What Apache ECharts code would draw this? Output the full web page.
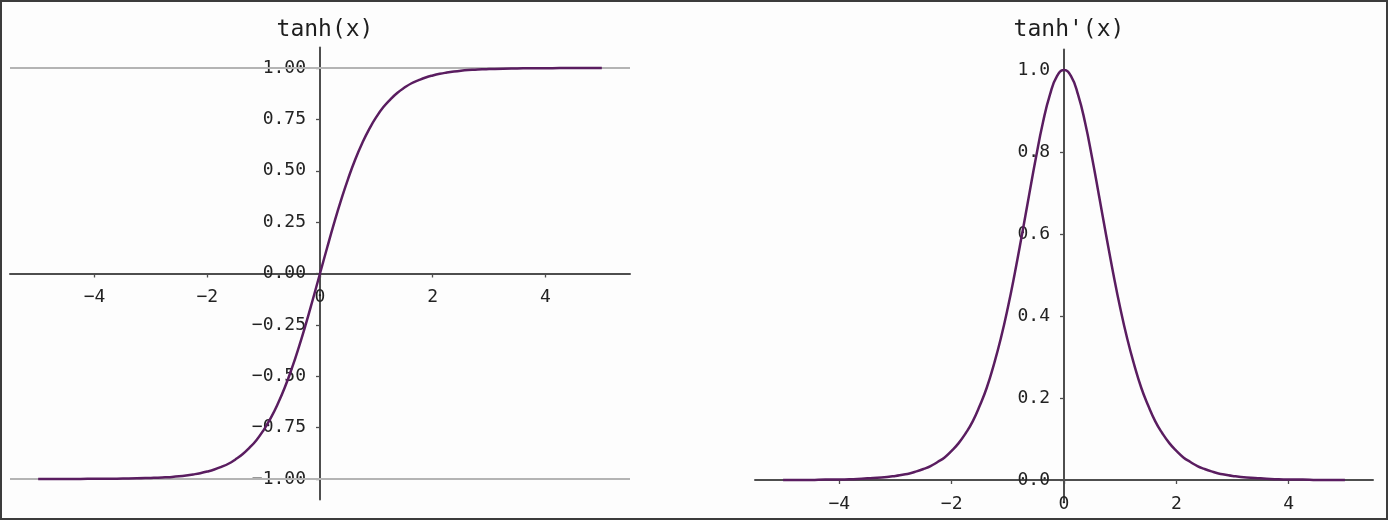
<!DOCTYPE html>
<html>
<head>
<meta charset="utf-8">
<script src="https://cdn.jsdelivr.net/npm/echarts@6/dist/echarts.min.js"></script>
<style>
  html, body { margin: 0; padding: 0; background: #fff; }
  .frame {
    position: absolute; left: 0; top: 0;
    width: 1388px; height: 520px;
    box-sizing: border-box;
    border: 2px solid #3c3c3c;
    background: #fdfdfd;
  }
  #chart { position: absolute; left: -2px; top: -2px; width: 1389px; height: 521px; }
</style>
</head>
<body>
<div class="frame"><div id="chart"></div></div>
<script>
// x positions of the sampled curve points (denser near the middle)
const xValues = [
  -5, -4.75, -4.5, -4.25, -4, -3.75, -3.5, -3.25,
  -3, -2.875, -2.75, -2.625, -2.5, -2.375, -2.25, -2.125, -2, -1.875, -1.75, -1.625, -1.5, -1.375, -1.25, -1.125,
  -1, -0.875, -0.75, -0.625, -0.5, -0.375, -0.25, -0.125,
  0, 0.125, 0.25, 0.375, 0.5, 0.625, 0.75, 0.875,
  1, 1.125, 1.25, 1.375, 1.5, 1.625, 1.75, 1.875, 2, 2.125, 2.25, 2.375, 2.5, 2.625, 2.75, 2.875, 3,
  3.25, 3.5, 3.75, 4, 4.25, 4.5, 4.75, 5
];
// left panel: tanh(x)
const tanhValues = [
  -1.0, -1.0, -1.0, -1.0, -0.999, -0.999, -0.998, -0.997,
  -0.995, -0.994, -0.992, -0.990, -0.987, -0.983, -0.978, -0.972, -0.964, -0.954, -0.941, -0.926, -0.905, -0.880, -0.848, -0.810,
  -0.762, -0.704, -0.635, -0.555, -0.462, -0.358, -0.245, -0.124,
  0.0, 0.124, 0.245, 0.358, 0.462, 0.555, 0.635, 0.704,
  0.762, 0.810, 0.848, 0.880, 0.905, 0.926, 0.941, 0.954, 0.964, 0.972, 0.978, 0.983, 0.987, 0.990, 0.992, 0.994, 0.995,
  0.997, 0.998, 0.999, 0.999, 1.0, 1.0, 1.0, 1.0
];
// right panel: tanh'(x)
const tanhPrimeValues = [
  0.0, 0.0, 0.0, 0.001, 0.001, 0.002, 0.004, 0.006,
  0.010, 0.013, 0.016, 0.021, 0.027, 0.034, 0.044, 0.055, 0.071, 0.090, 0.114, 0.143, 0.181, 0.225, 0.281, 0.345,
  0.420, 0.505, 0.597, 0.692, 0.786, 0.872, 0.940, 0.985,
  1.0, 0.985, 0.940, 0.872, 0.786, 0.692, 0.597, 0.505,
  0.420, 0.345, 0.281, 0.225, 0.181, 0.143, 0.114, 0.090, 0.071, 0.055, 0.044, 0.034, 0.027, 0.021, 0.016, 0.013, 0.010,
  0.006, 0.004, 0.002, 0.001, 0.001, 0.0, 0.0, 0.0
];
const xTicks = [-4, -2, 0, 2, 4];
const leftYTicks = [-1, -0.75, -0.5, -0.25, 0, 0.25, 0.5, 0.75, 1];
const rightYTicks = [0, 0.2, 0.4, 0.6, 0.8, 1.0];
const guideLevels = [1, -1];

const FONT = "'DejaVu Sans Mono', monospace";
const AXIS_COLOR = "#4e4e4e";
const CURVE_COLOR = "#5a1d60";
const LABEL_COLOR = "#222";

function fmt(digits) {
  return function (v) {
    const s = Math.abs(v).toFixed(digits);
    return v < 0 ? "\u2212" + s : s;
  };
}

function pairs(xs, ys) {
  return xs.map(function (x, i) { return [x, ys[i]]; });
}

// axes are shifted with offset so that they cross at the origin (spines at zero)
function xAxisFor(gridIndex, offset) {
  return {
    type: "value",
    gridIndex: gridIndex,
    position: "bottom",
    offset: offset,
    min: -5.5,
    max: 5.5,
    axisLine: { onZero: false, lineStyle: { color: AXIS_COLOR, width: 2 } },
    axisTick: { customValues: xTicks, length: 4, lineStyle: { color: AXIS_COLOR, width: 1.3 } },
    axisLabel: {
      customValues: xTicks, formatter: fmt(0), margin: 15,
      fontFamily: FONT, fontSize: 18, color: LABEL_COLOR
    },
    splitLine: { show: false }
  };
}

function yAxisFor(gridIndex, offset, min, max, ticks, digits) {
  return {
    type: "value",
    gridIndex: gridIndex,
    position: "left",
    offset: offset,
    min: min,
    max: max,
    axisLine: { show: true, onZero: false, lineStyle: { color: AXIS_COLOR, width: 2 } },
    axisTick: { show: true, customValues: ticks, length: 4, lineStyle: { color: AXIS_COLOR, width: 1.3 } },
    axisLabel: {
      customValues: ticks, formatter: fmt(digits), margin: 14,
      fontFamily: FONT, fontSize: 18, color: LABEL_COLOR
    },
    splitLine: { show: false }
  };
}

const chart = echarts.init(document.getElementById("chart"));
chart.setOption({
  animation: false,
  backgroundColor: "transparent",
  title: [
    { text: "tanh(x)", left: 320, top: 14, textAlign: "center",
      textStyle: { fontFamily: FONT, fontSize: 23, fontWeight: "normal", color: "#1e1e1e" } },
    { text: "tanh'(x)", left: 1064, top: 14, textAlign: "center",
      textStyle: { fontFamily: FONT, fontSize: 23, fontWeight: "normal", color: "#1e1e1e" } }
  ],
  grid: [
    { left: 10, top: 47.5, width: 620, height: 452, containLabel: false, outerBoundsMode: "none" },
    { left: 755, top: 49.5, width: 618, height: 451, containLabel: false, outerBoundsMode: "none" }
  ],
  xAxis: [xAxisFor(0, -226), xAxisFor(1, -20.5)],
  yAxis: [
    yAxisFor(0, -310, -1.1, 1.1, leftYTicks, 2),
    yAxisFor(1, -309, -0.05, 1.05, rightYTicks, 1)
  ],
  series: [
    {
      // gray guide lines at y = ±1, kept under the curve
      type: "line",
      xAxisIndex: 0,
      yAxisIndex: 0,
      data: [],
      z: 1,
      markLine: {
        silent: true,
        z: 1,
        symbol: "none",
        label: { show: false },
        lineStyle: { color: "#b4b4b4", width: 1.8, type: "solid" },
        data: guideLevels.map(function (v) { return { yAxis: v }; })
      }
    },
    {
      type: "line",
      xAxisIndex: 0,
      yAxisIndex: 0,
      data: pairs(xValues, tanhValues),
      smooth: true,
      showSymbol: false,
      lineStyle: { color: CURVE_COLOR, width: 2.5 },
      z: 3
    },
    {
      type: "line",
      xAxisIndex: 1,
      yAxisIndex: 1,
      data: pairs(xValues, tanhPrimeValues),
      smooth: true,
      showSymbol: false,
      lineStyle: { color: CURVE_COLOR, width: 2.5 },
      z: 3
    }
  ]
});
</script>
</body>
</html>
